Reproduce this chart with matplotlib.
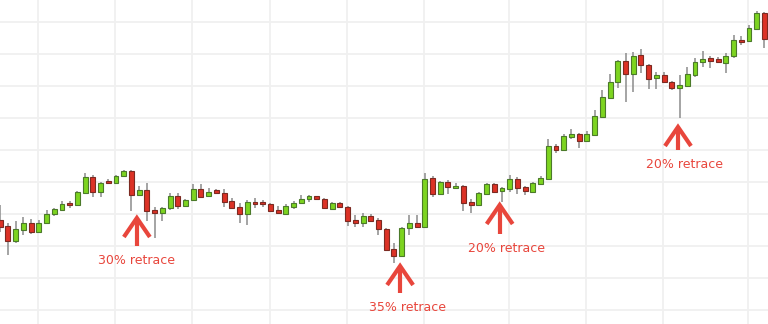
import numpy as np
import matplotlib.pyplot as plt

# daily candles, price in quote currency
opens = [1.2090, 1.2084, 1.2069, 1.2080, 1.2087, 1.2078, 1.2087, 1.2096, 1.2100, 1.2106,
         1.2105, 1.2117, 1.2133, 1.2118, 1.2128, 1.2127, 1.2134, 1.2139, 1.2115, 1.2120,
         1.2100, 1.2097, 1.2102, 1.2114, 1.2104, 1.2110, 1.2121, 1.2114, 1.2118, 1.2117,
         1.2109, 1.2103, 1.2096, 1.2108, 1.2107, 1.2106, 1.2100, 1.2096, 1.2103, 1.2107,
         1.2111, 1.2112, 1.2111, 1.2101, 1.2107, 1.2103, 1.2089, 1.2087, 1.2094, 1.2090,
         1.2081, 1.2061, 1.2054, 1.2082, 1.2087, 1.2083, 1.2132, 1.2116, 1.2128, 1.2122,
         1.2124, 1.2108, 1.2105, 1.2116, 1.2126, 1.2119, 1.2121, 1.2131, 1.2123, 1.2118,
         1.2126, 1.2131, 1.2164, 1.2160, 1.2173, 1.2176, 1.2169, 1.2175, 1.2193, 1.2212,
         1.2228, 1.2249, 1.2236, 1.2255, 1.2245, 1.2232, 1.2235, 1.2228, 1.2222, 1.2224,
         1.2235, 1.2248, 1.2251, 1.2250, 1.2247, 1.2254, 1.2270, 1.2269, 1.2281, 1.2297]
highs = [1.2105, 1.2087, 1.2089, 1.2093, 1.2091, 1.2090, 1.2100, 1.2102, 1.2109, 1.2109,
         1.2119, 1.2137, 1.2135, 1.2128, 1.2131, 1.2135, 1.2140, 1.2140, 1.2124, 1.2127,
         1.2103, 1.2103, 1.2117, 1.2117, 1.2111, 1.2126, 1.2126, 1.2122, 1.2121, 1.2121,
         1.2112, 1.2107, 1.2110, 1.2112, 1.2110, 1.2107, 1.2104, 1.2106, 1.2109, 1.2115,
         1.2115, 1.2113, 1.2112, 1.2108, 1.2108, 1.2104, 1.2095, 1.2097, 1.2096, 1.2092,
         1.2082, 1.2067, 1.2083, 1.2095, 1.2095, 1.2137, 1.2134, 1.2129, 1.2130, 1.2127,
         1.2125, 1.2111, 1.2118, 1.2127, 1.2127, 1.2123, 1.2135, 1.2133, 1.2124, 1.2128,
         1.2134, 1.2171, 1.2166, 1.2176, 1.2181, 1.2177, 1.2179, 1.2200, 1.2220, 1.2236,
         1.2250, 1.2257, 1.2258, 1.2261, 1.2246, 1.2238, 1.2238, 1.2229, 1.2235, 1.2243,
         1.2252, 1.2259, 1.2254, 1.2253, 1.2257, 1.2275, 1.2274, 1.2285, 1.2299, 1.2298]
lows = [1.2078, 1.2055, 1.2067, 1.2075, 1.2076, 1.2078, 1.2086, 1.2094, 1.2100, 1.2102,
        1.2105, 1.2117, 1.2113, 1.2113, 1.2126, 1.2126, 1.2133, 1.2099, 1.2114, 1.2089,
        1.2072, 1.2089, 1.2100, 1.2101, 1.2103, 1.2109, 1.2112, 1.2113, 1.2116, 1.2103,
        1.2101, 1.2087, 1.2085, 1.2102, 1.2103, 1.2098, 1.2096, 1.2095, 1.2101, 1.2106,
        1.2108, 1.2110, 1.2101, 1.2100, 1.2102, 1.2084, 1.2083, 1.2083, 1.2088, 1.2075,
        1.2059, 1.2047, 1.2053, 1.2075, 1.2082, 1.2083, 1.2113, 1.2115, 1.2116, 1.2121,
        1.2099, 1.2097, 1.2104, 1.2115, 1.2117, 1.2108, 1.2118, 1.2116, 1.2115, 1.2117,
        1.2125, 1.2130, 1.2157, 1.2159, 1.2171, 1.2162, 1.2168, 1.2174, 1.2192, 1.2211,
        1.2222, 1.2208, 1.2218, 1.2237, 1.2221, 1.2221, 1.2227, 1.2220, 1.2192, 1.2223,
        1.2233, 1.2243, 1.2242, 1.2247, 1.2237, 1.2252, 1.2265, 1.2268, 1.2280, 1.2262]
closes = [1.2083, 1.2069, 1.2081, 1.2087, 1.2078, 1.2087, 1.2096, 1.2101, 1.2106, 1.2105,
          1.2118, 1.2133, 1.2118, 1.2127, 1.2127, 1.2134, 1.2139, 1.2115, 1.2120, 1.2099,
          1.2097, 1.2102, 1.2114, 1.2104, 1.2110, 1.2121, 1.2113, 1.2118, 1.2117, 1.2108,
          1.2102, 1.2096, 1.2108, 1.2106, 1.2106, 1.2099, 1.2097, 1.2104, 1.2107, 1.2111,
          1.2112, 1.2111, 1.2102, 1.2107, 1.2103, 1.2089, 1.2087, 1.2094, 1.2089, 1.2081,
          1.2060, 1.2054, 1.2082, 1.2087, 1.2083, 1.2131, 1.2116, 1.2128, 1.2123, 1.2124,
          1.2107, 1.2105, 1.2117, 1.2126, 1.2118, 1.2121, 1.2131, 1.2122, 1.2119, 1.2127,
          1.2132, 1.2164, 1.2160, 1.2174, 1.2176, 1.2169, 1.2176, 1.2194, 1.2213, 1.2228,
          1.2249, 1.2236, 1.2254, 1.2245, 1.2231, 1.2235, 1.2228, 1.2222, 1.2225, 1.2236,
          1.2248, 1.2251, 1.2249, 1.2248, 1.2254, 1.2270, 1.2268, 1.2282, 1.2297, 1.2271]

# candle index of the weekly grid lines
week_starts = [5, 15, 25, 35, 45, 55, 66, 76, 86, 97]

# retracement callouts: candle position, arrow tip price, label
callout_x = [17.7, 51.8, 64.7, 87.8]
callout_tip = [1.2092, 1.2044, 1.2105, 1.2183]
callout_text = ['30% retrace', '35% retrace', '20% retrace', '20% retrace']
callout_dx = [0.0, 1.0, 0.9, 0.9]
callout_len = [28, 27, 29, 23]  # shaft length, px

GREEN, GREEN_EDGE = '#7dd420', '#4b7a2a'
RED, RED_EDGE = '#dc3226', '#7c2a22'
WICK = '#8c8c8c'
ANNOT = '#e8463c'


def draw_arrow(ax, x, tip, length, px_x, px_y):
    # open chevron arrow pointing up, sizes given in pixels
    shaft = length * px_y
    ax.plot([x, x], [tip - shaft, tip - 1.5 * px_y], color=ANNOT, lw=3.0,
            solid_capstyle='butt', zorder=5)
    ax.plot([x - 13 * px_x, x, x + 13 * px_x], [tip - 19 * px_y, tip, tip - 19 * px_y],
            color=ANNOT, lw=3.0, solid_joinstyle='miter', solid_capstyle='butt', zorder=5)
    return tip - shaft


o = np.array(opens)
h = np.array(highs)
l = np.array(lows)
c = np.array(closes)
x = np.arange(len(o))
up = c >= o

fig = plt.figure(figsize=(7.68, 3.24), dpi=100)
ax = fig.add_axes([0, 0, 1, 1])

xmin, xmax = -0.03, 99.46
ymin, ymax = 1.1986, 1.2310
ax.set_xlim(xmin, xmax)
ax.set_ylim(ymin, ymax)
px_x = (xmax - xmin) / 768
px_y = (ymax - ymin) / 324

# grid
for wx in week_starts:
    ax.axvline(wx - 0.1, color='#f0f0f0', lw=1.3, zorder=0)
for gy in np.arange(1.2000, 1.2300, 0.0032):
    ax.axhline(gy, color='#f0f0f0', lw=1.3, zorder=0)

# candles
ax.vlines(x, l, h, color=WICK, lw=1.1, zorder=2)
body_lo = np.minimum(o, c)
body_h = np.maximum(np.abs(c - o), 0.00025)
ax.bar(x[up], body_h[up], bottom=body_lo[up], width=0.64, color=GREEN,
       edgecolor=GREEN_EDGE, linewidth=0.8, zorder=3)
ax.bar(x[~up], body_h[~up], bottom=body_lo[~up], width=0.64, color=RED,
       edgecolor=RED_EDGE, linewidth=0.8, zorder=3)

# callouts
for cx, tip, txt, dx, ln in zip(callout_x, callout_tip, callout_text, callout_dx, callout_len):
    base = draw_arrow(ax, cx, tip, ln, px_x, px_y)
    ax.text(cx + dx, base - 14 * px_y, txt, color=ANNOT, fontsize=9,
            ha='center', va='center', zorder=6)

ax.axis('off')
fig.savefig('out.png', dpi=100)
